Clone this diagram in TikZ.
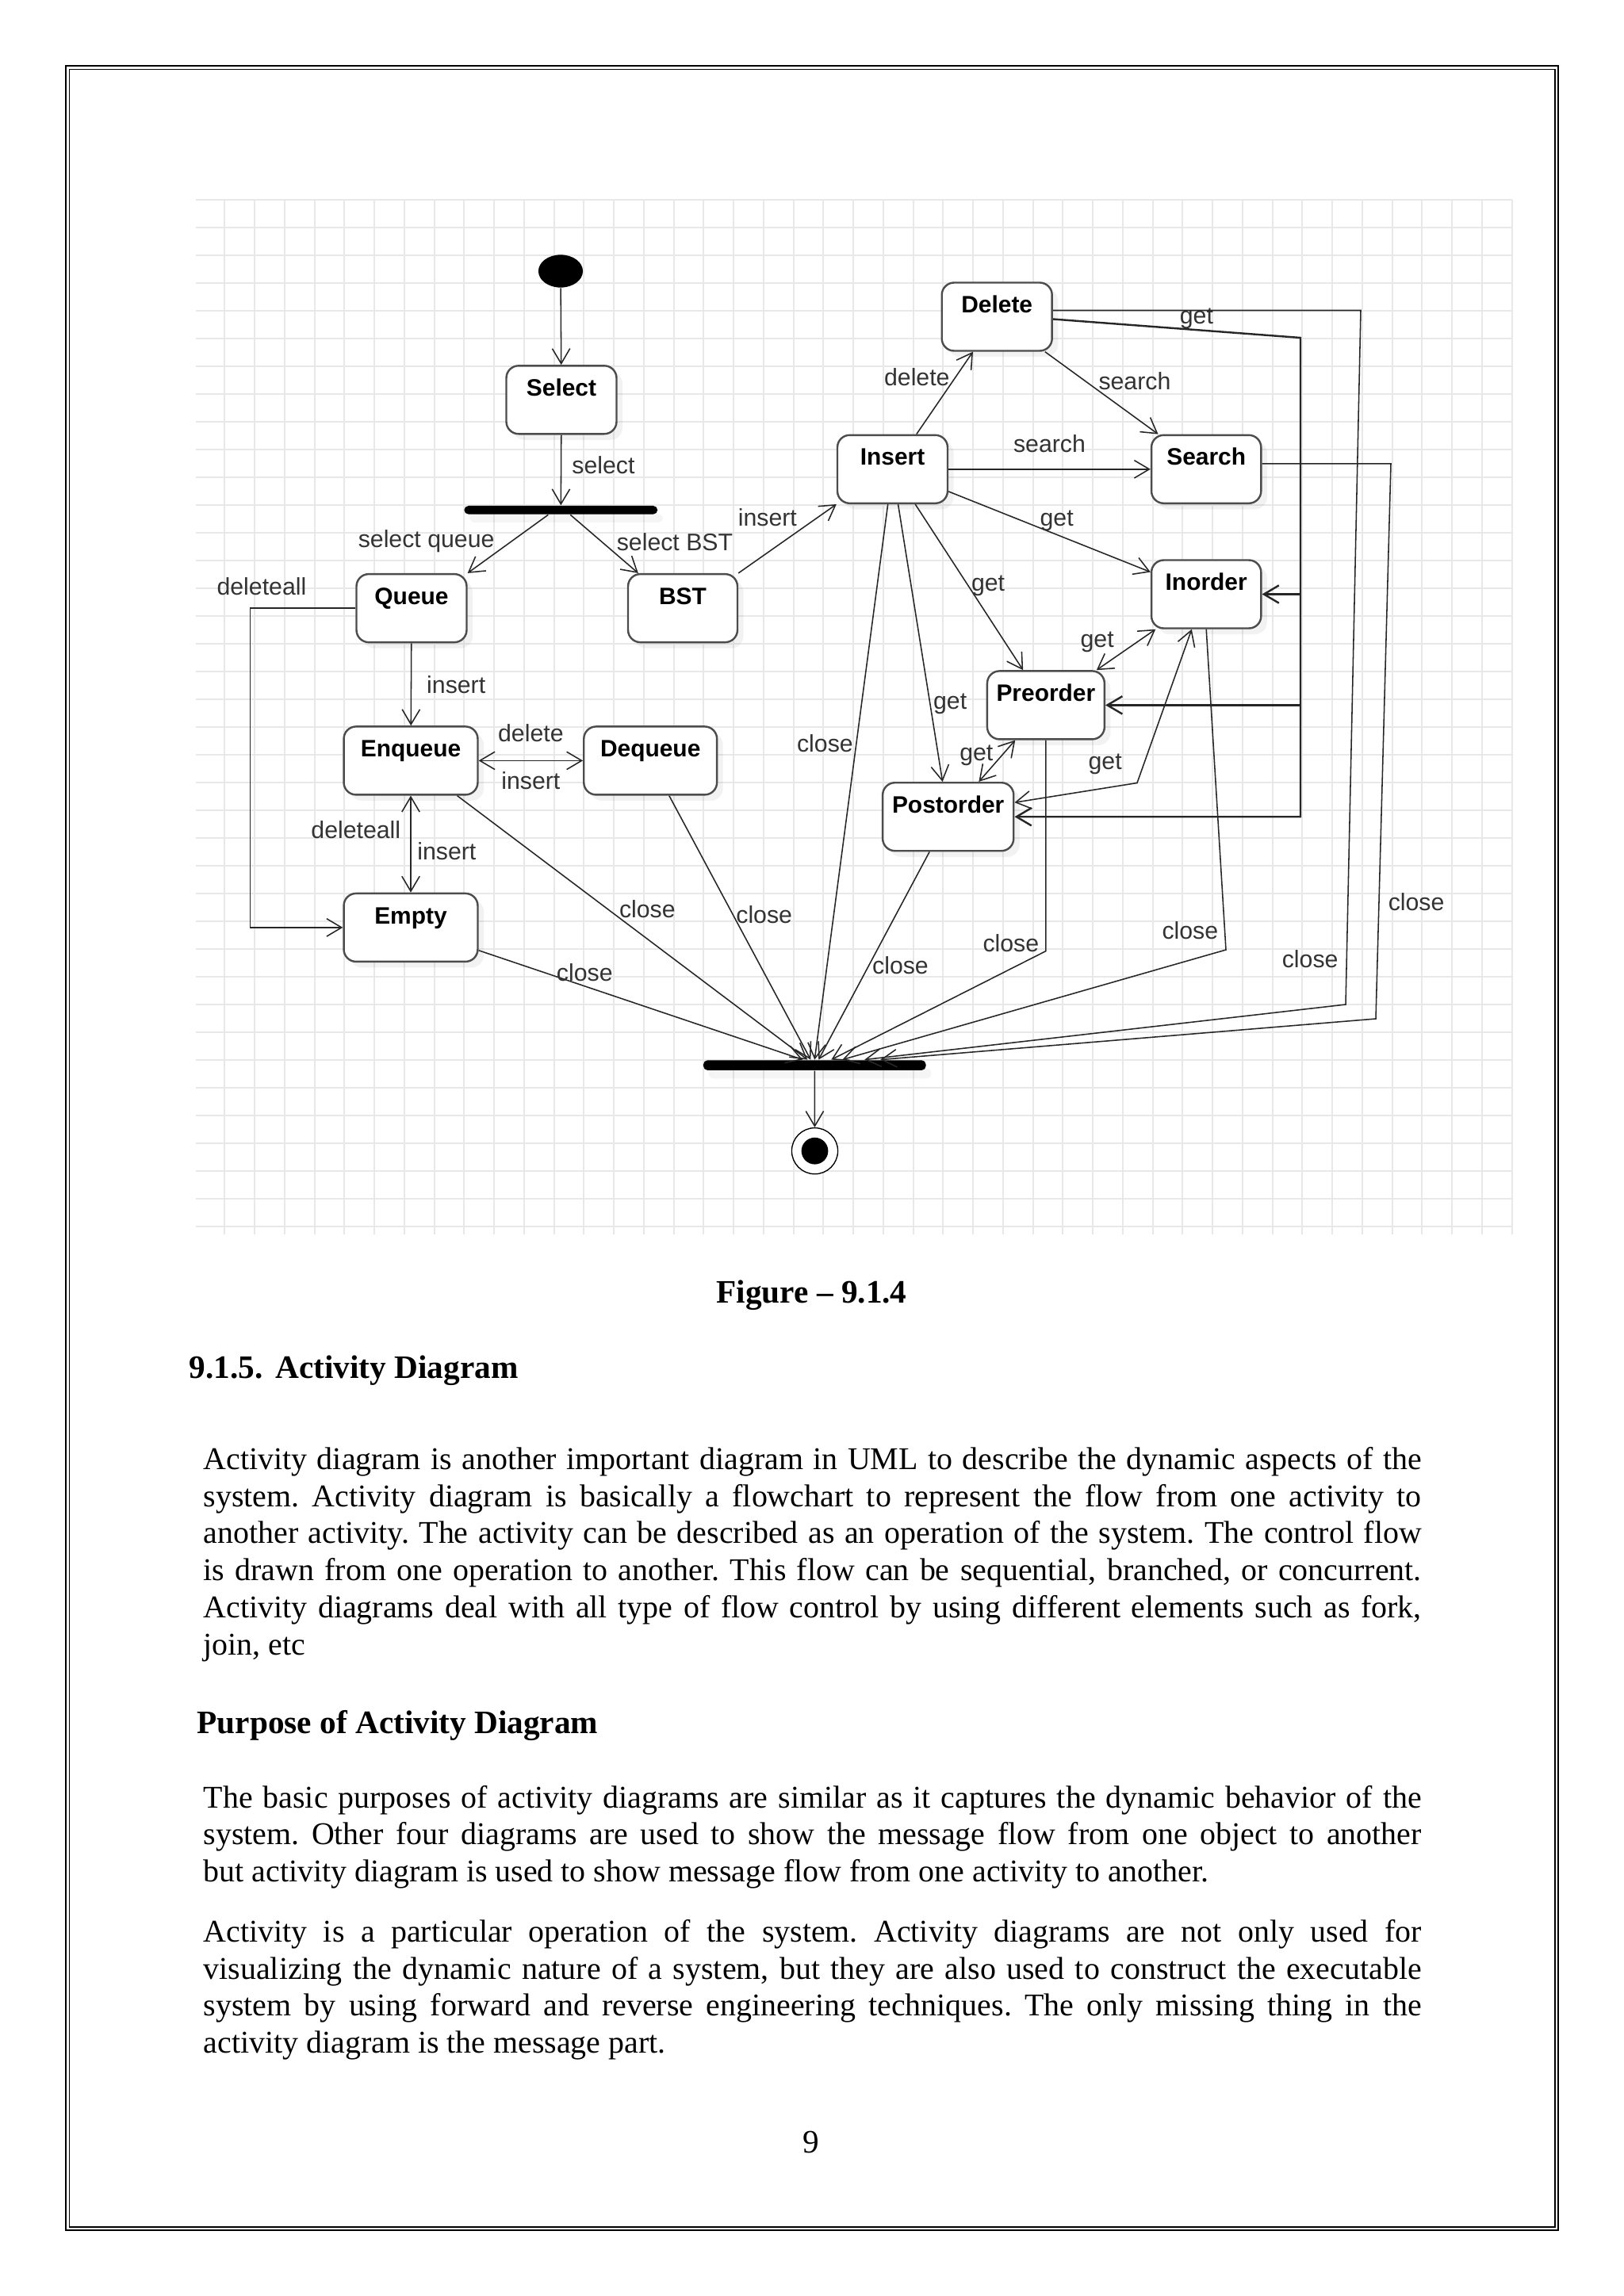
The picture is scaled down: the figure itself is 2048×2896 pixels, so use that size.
\documentclass[tikz,border=0pt]{standalone}
\usepackage{fontspec}
\setmainfont{Liberation Serif}
\setsansfont{Liberation Sans}
\usetikzlibrary{arrows.meta,shapes.geometric,shadows,calc}
\frenchspacing

\tikzset{
  state/.style={draw=black!70, line width=0.7pt, fill=white, rounded corners=4.5pt,
    minimum width=40.4pt, inner xsep=2pt, inner ysep=0pt, text height=11.1pt, text depth=13.9pt,
    font=\sffamily\bfseries\fontsize{8.7}{10}\selectfont,
    drop shadow={shadow xshift=2.2pt, shadow yshift=-2.2pt, opacity=0.1}},
  bar/.style={fill=black, rounded corners=1.6pt, inner sep=0pt,
    drop shadow={shadow xshift=2pt, shadow yshift=-3pt, opacity=0.08}},
  flow/.style={->, draw=black!85, line width=0.45pt},
  lbl/.style={font=\sffamily\fontsize{8.8}{10}\selectfont, text=black!80, inner sep=1pt},
  gridline/.style={draw=black!9, line width=0.55pt},
  para/.style={anchor=base west, inner sep=0pt, text width=446.5pt, align=justify,
    font={\fontsize{11.6}{13.6}\selectfont\spaceskip=0.25em plus 0.3em minus 0.2em\hyphenpenalty=10000 \exhyphenpenalty=10000 }},
  heading/.style={anchor=base west, inner sep=0pt, font=\bfseries\fontsize{12}{13.6}\selectfont}
}

\begin{document}
\begin{tikzpicture}[x=0.2907pt, y=-0.2907pt, >={Straight Barb[length=5.5pt,width=6.5pt]}]
  \fill[white] (0,0) rectangle (2048,2896);
  \useasboundingbox (0,0) rectangle (2048,2896);

  % page frame
  \draw[line width=0.6pt] (83,83) rectangle (1965,2813);
  \draw[line width=0.5pt] (87.5,87.5) rectangle (1961,2808.7);

  % grid paper behind the diagram
  \foreach \gx in {0,...,43} \draw[gridline] ({283.3+37.75*\gx},252.3) -- ++(0,1304.7);
  \foreach \gy in {0,...,37} \draw[gridline] (247,{252.3+35*\gy}) -- ++(1659.6,0);

  % states
  \node[ellipse, fill=black, minimum width=16.3pt, minimum height=12pt, inner sep=0pt] (init) at (707,342) {};
  \node[state] (select) at (708,504.3) {Select};
  \node[bar, minimum width=70.9pt, minimum height=3.1pt] (fork) at (707.3,643.3) {};
  \node[state] (queue) at (519,767.1) {Queue};
  \node[state, minimum width=40.1pt] (bst) at (861,767.1) {BST};
  \node[state, minimum width=49.1pt] (enqueue) at (518,959.4) {Enqueue};
  \node[state, minimum width=48.8pt] (dequeue) at (820.2,959.4) {Dequeue};
  \node[state, minimum width=49.1pt] (empty) at (518,1169.9) {Empty};
  \node[state] (delete) at (1257.2,399.5) {Delete};
  \node[state] (insert) at (1125.5,591.8) {Insert};
  \node[state, minimum width=40.2pt] (search) at (1521.2,591.8) {Search};
  \node[state, minimum width=40.2pt] (inorder) at (1521.2,749.5) {Inorder};
  \node[state, minimum width=43pt] (preorder) at (1318.9,889.4) {Preorder};
  \node[state, minimum width=48pt] (postorder) at (1195.7,1030.2) {Postorder};
  \node[bar, minimum width=81.6pt, minimum height=3.7pt] (join) at (1027.3,1343.6) {};
  \node[circle, draw, line width=0.4pt, fill=white, minimum size=16.9pt, inner sep=0pt,
    path picture={\fill[black] (path picture bounding box.center) circle (4.9pt);}] (final) at (1027.5,1451.7) {};

  % queue side
  \draw[flow] (init) -- (select);
  \draw[flow] (select) -- node[lbl, pos=0.43, right=2.8pt] {select} (fork);
  \draw[flow] ($(fork.south)+(-16,0)$) -- node[lbl, pos=0.45, left=5.2pt] {select queue} (queue.north east);
  \draw[flow] ($(fork.south)+(12,0)$) -- node[lbl, pos=0.47, right=4.1pt] {select BST} ($(bst.north west)+(14,0)$);
  \draw[flow] (bst.north east) -- node[lbl, pos=0.63, above left] {insert} (insert.south west);
  \draw[flow] (queue) -- node[lbl, midway, right=4.5pt] {insert} (enqueue);
  \draw[flow, <->] (enqueue) -- node[lbl, midway, above=5.7pt] {delete} node[lbl, midway, below=2.8pt] {insert} (dequeue);
  \draw[flow, <->] (enqueue) -- node[lbl, pos=0.35, left=2.5pt] {deleteall} node[lbl, pos=0.57, right=1.2pt] {insert} (empty);
  \draw[flow] (queue.west) -- node[lbl, pos=0.89, above=3.5pt] {deleteall} ++(-133,0) |- (empty.west);
  \draw[flow] (empty) -- node[lbl, pos=0.327, above=0.6pt] {close} ($(join.north)+(-15,0)$);
  \draw[flow] (enqueue) -- node[lbl, pos=0.43, right=3pt] {close} ($(join.north)+(-9,0)$);
  \draw[flow] (dequeue) -- node[lbl, pos=0.45, right] {close} ($(join.north)+(-5,0)$);

  % tree side
  \draw[flow] (insert) -- node[lbl, pos=0.695, left=1pt] {delete} (delete);
  \draw[flow] (delete) -- node[lbl, pos=0.36, right=3.5pt] {search} (search);
  \draw[flow] (insert) -- node[lbl, midway, above=5pt] {search} (search);
  \draw[flow] (insert) -- node[lbl, pos=0.536, above] {get} (inorder);
  \draw[flow] (insert) -- node[lbl, pos=0.49, right] {get} (preorder);
  \draw[flow] (insert) -- node[lbl, pos=0.72, right] {get} (postorder);
  \draw[flow, <->] (preorder) -- node[lbl, pos=0.35, above left] {get} (inorder);
  \draw[flow, <->] (preorder) -- node[lbl, pos=0.366, left=2pt] {get} (postorder);
  \draw[flow, <->] ($(postorder.east)+(0,-18)$) -- (1434,987.5) -- node[lbl, pos=0.12, left=6.8pt] {get} ($(inorder.south west)+(52,0)$);

  % get lines out of Delete
  \coordinate (getbus) at (1640,426);
  \draw[flow, line width=0.7pt] ($(delete.east)+(0,3)$) -- node[lbl, pos=0.58, above=-1pt] {get} (getbus) |- (postorder.east);
  \draw[flow, line width=0.7pt] (getbus |- inorder.east) -- (inorder.east);
  \draw[flow, line width=0.7pt] (getbus |- preorder.east) -- (preorder.east);

  % close lines into the join
  \draw[flow] (insert) -- node[lbl, pos=0.43, left] {close} (join.north);
  \draw[flow] (postorder) -- node[lbl, pos=0.545, right] {close} ($(join.north)+(5,0)$);
  \draw[flow] (preorder.south) -- node[lbl, pos=0.963, left=1.3pt] {close} ++(0,266) -- ($(join.north)+(21,0)$);
  \draw[flow] (inorder.south) -- node[lbl, pos=0.94, left=1.2pt] {close} (1546,1198) -- ($(join.north)+(35,0)$);
  \draw[flow] ($(delete.east)+(0,-8)$) -- (1716,391.5) -- node[lbl, pos=0.934, left=1.9pt] {close} (1697,1267) -- ($(join.north)+(63,0)$);
  \draw[flow] ($(search.east)+(0,-7)$) -- (1754,584.8) -- node[lbl, pos=0.79, right=2.2pt] {close} (1735,1285) -- ($(join.north)+(83,0)$);
  \draw[flow] (join) -- (final);

  % page text
  \node[anchor=base, inner sep=0pt, font=\bfseries\fontsize{12}{13.6}\selectfont] (figcap) at (1023.6,1643) {Figure -- 9.1.4};
  \node[heading] (sechead) at (238,1738) {9.1.5.\hspace{4.6pt}Activity Diagram};
  \node[para] (para1) at (256,1853.3) {Activity diagram is another important diagram in UML to describe the dynamic aspects of the\linebreak
    system. Activity diagram is basically a flowchart to represent the flow from one activity to\linebreak
    another activity. The activity can be described as an operation of the system. The control flow\linebreak
    is drawn from one operation to another. This flow can be sequential, branched, or concurrent.\linebreak
    Activity diagrams deal with all type of flow control by using different elements such as fork,\linebreak
    join, etc};
  \node[heading] (purpose) at (248,2186) {Purpose of Activity Diagram};
  \node[para] (para2) at (256,2280) {The basic purposes of activity diagrams are similar as it captures the dynamic behavior of the\linebreak
    system. Other four diagrams are used to show the message flow from one object to another\linebreak
    but activity diagram is used to show message flow from one activity to another.};
  \node[para] (para3) at (256,2449.3) {Activity is a particular operation of the system. Activity diagrams are not only used for\linebreak
    visualizing the dynamic nature of a system, but they are also used to construct the executable\linebreak
    system by using forward and reverse engineering techniques. The only missing thing in the\linebreak
    activity diagram is the message part.};
  \node[anchor=base, inner sep=0pt, font=\fontsize{12}{13.6}\selectfont] (pagenum) at (1022.6,2715) {9};
\end{tikzpicture}
\end{document}
